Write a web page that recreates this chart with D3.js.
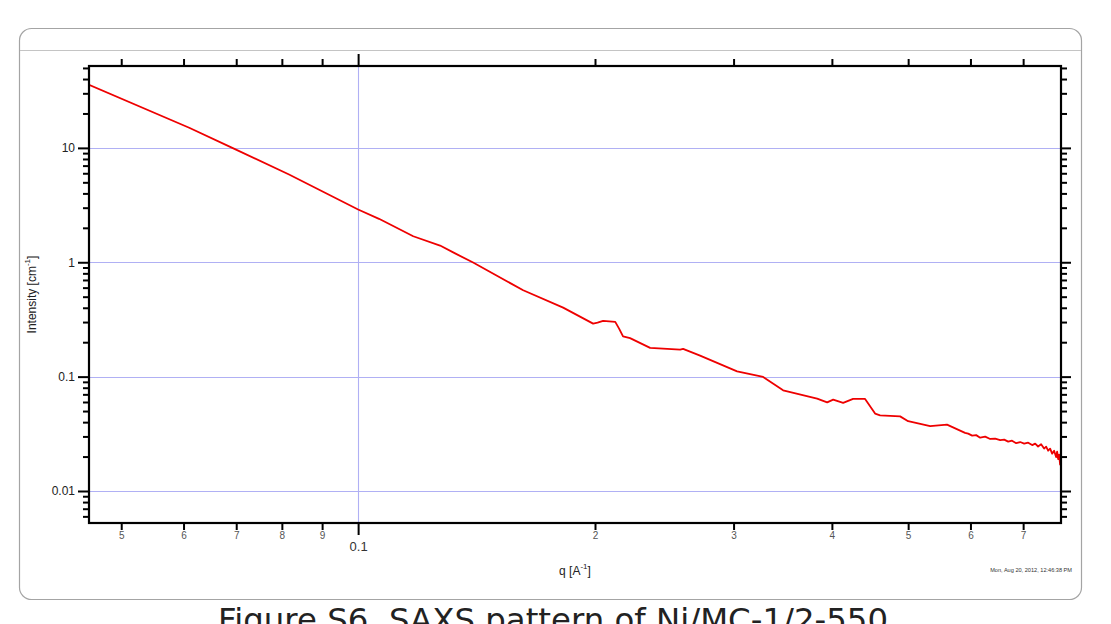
<!DOCTYPE html>
<html>
<head>
<meta charset="utf-8">
<script src="https://cdn.jsdelivr.net/npm/d3@7"></script>
<style>
  html, body { margin: 0; padding: 0; background: #fff; }
  svg { display: block; }
</style>
</head>
<body>
<svg id="chart" width="1111" height="624"></svg>
<script>
// ---- data ----
const qValues = [
  0.0455, 0.0610, 0.0692, 0.0817, 0.1000, 0.1063, 0.1175, 0.1271, 0.1330, 0.1400, 0.1621,
  0.1822, 0.1989, 0.2015, 0.2048, 0.2122, 0.2146, 0.2171, 0.2216, 0.2350, 0.2566, 0.2588,
  0.2720, 0.3031, 0.3271, 0.3468, 0.3831, 0.3945, 0.4015, 0.4134, 0.4256, 0.4408,
  0.4539, 0.4606, 0.4884, 0.5000, 0.5333, 0.5602, 0.5906,
  0.5960, 0.6030, 0.6101, 0.6173, 0.6264, 0.6356, 0.6450, 0.6545, 0.6622, 0.6700,
  0.6776, 0.6859, 0.6940, 0.7021, 0.7104, 0.7187, 0.7251, 0.7313, 0.7378, 0.7443,
  0.7487, 0.7531, 0.7575, 0.7620, 0.7664, 0.7709, 0.7732, 0.7755, 0.7777, 0.7800, 0.7818
];
const intensityValues = [
  35.65, 14.99, 10.0, 5.85, 2.89, 2.398, 1.688, 1.400, 1.19, 0.994, 0.569,
  0.4015, 0.2909, 0.2960, 0.3072, 0.3011, 0.2630, 0.2252, 0.2172, 0.1783, 0.1723, 0.1747,
  0.1527, 0.1113, 0.0994, 0.0759, 0.0642, 0.0596, 0.0629, 0.0589, 0.0638, 0.0638,
  0.0475, 0.0459, 0.0449, 0.0408, 0.0369, 0.0380, 0.0322,
  0.03171, 0.03047, 0.03080, 0.02926, 0.02986, 0.02850, 0.02869, 0.02790, 0.02811, 0.02700,
  0.02755, 0.02620, 0.02680, 0.02600, 0.02646, 0.02520, 0.02593, 0.02450, 0.02560, 0.02350,
  0.02441, 0.02250, 0.02345, 0.02120, 0.02252, 0.01980, 0.02207, 0.01900, 0.02078, 0.01700, 0.01878
];

const xDomain = [0.0455, 0.782];
const yDomain = [0.00525, 52];

const xMajorTicks = [0.1];
const xMajorLabels = ["0.1"];
const xMinorTicks = [0.05, 0.06, 0.07, 0.08, 0.09, 0.2, 0.3, 0.4, 0.5, 0.6, 0.7];
const xMinorLabels = ["5", "6", "7", "8", "9", "2", "3", "4", "5", "6", "7"];

const yMajorTicks = [0.01, 0.1, 1, 10];
const yMajorLabels = ["0.01", "0.1", "1", "10"];
const yMinorTicks = [
  0.006, 0.007, 0.008, 0.009,
  0.02, 0.03, 0.04, 0.05, 0.06, 0.07, 0.08, 0.09,
  0.2, 0.3, 0.4, 0.5, 0.6, 0.7, 0.8, 0.9,
  2, 3, 4, 5, 6, 7, 8, 9,
  20, 30, 40, 50
];

const yTitle = "Intensity [cm";
const xTitle = "q [A";
const superscript = "-1";
const timestamp = "Mon, Aug 20, 2012, 12:46:38 PM";
const caption = "Figure S6. SAXS pattern of Ni/MC-1/2-550";

// ---- layout ----
const plot = { left: 89, right: 1061, top: 66, bottom: 523 };
const svg = d3.select("#chart");

const x = d3.scaleLog().domain(xDomain).range([plot.left, plot.right]);
const y = d3.scaleLog().domain(yDomain).range([plot.bottom, plot.top]);

// outer panel
svg.append("rect")
  .attr("x", 19.5).attr("y", 28.5)
  .attr("width", 1062).attr("height", 571)
  .attr("rx", 12).attr("ry", 12)
  .attr("fill", "#fff")
  .attr("stroke", "#a4a4a4").attr("stroke-width", 1.2);
svg.append("line")
  .attr("x1", 20).attr("x2", 1081)
  .attr("y1", 50.5).attr("y2", 50.5)
  .attr("stroke", "#c4c4c4").attr("stroke-width", 1);

// clip
svg.append("defs").append("clipPath").attr("id", "plotclip")
  .append("rect")
  .attr("x", plot.left).attr("y", plot.top)
  .attr("width", plot.right - plot.left).attr("height", plot.bottom - plot.top);

// grid
const grid = svg.append("g").attr("stroke", "#b0b0f4").attr("stroke-width", 1.1);
grid.selectAll("line.h").data(yMajorTicks).join("line")
  .attr("class", "h")
  .attr("x1", plot.left).attr("x2", plot.right)
  .attr("y1", d => Math.round(y(d)) + 0.5).attr("y2", d => Math.round(y(d)) + 0.5);
grid.selectAll("line.v").data(xMajorTicks).join("line")
  .attr("class", "v")
  .attr("x1", d => Math.round(x(d)) + 0.5).attr("x2", d => Math.round(x(d)) + 0.5)
  .attr("y1", plot.top).attr("y2", plot.bottom);

// curve
const pts = qValues.map((q, i) => [q, intensityValues[i]]);
const line = d3.line().x(d => x(d[0])).y(d => y(d[1]));
svg.append("path")
  .datum(pts)
  .attr("clip-path", "url(#plotclip)")
  .attr("fill", "none")
  .attr("stroke", "#ee0000")
  .attr("stroke-width", 1.8)
  .attr("stroke-linejoin", "round")
  .attr("d", line);

// axes helpers
function styleAxis(g, width) {
  g.select(".domain").remove();
  g.selectAll(".tick line").attr("stroke", "#000").attr("stroke-width", width);
}

const fontFam = "'Liberation Sans', Arial, sans-serif";

// bottom minor
const bMinor = svg.append("g").attr("transform", `translate(0,${plot.bottom})`)
  .call(d3.axisBottom(x).tickValues(xMinorTicks).tickSize(7).tickPadding(2)
    .tickFormat((d, i) => xMinorLabels[i]));
styleAxis(bMinor, 2);
bMinor.selectAll("text").attr("font-family", fontFam).attr("font-size", 10).attr("fill", "#555");

// bottom major
const bMajor = svg.append("g").attr("transform", `translate(0,${plot.bottom})`)
  .call(d3.axisBottom(x).tickValues(xMajorTicks).tickSize(12).tickPadding(7)
    .tickFormat((d, i) => xMajorLabels[i]));
styleAxis(bMajor, 2);
bMajor.selectAll("text").attr("font-family", fontFam).attr("font-size", 13).attr("fill", "#333");

// top ticks
const tMinor = svg.append("g").attr("transform", `translate(0,${plot.top})`)
  .call(d3.axisTop(x).tickValues(xMinorTicks).tickSize(7).tickFormat(""));
styleAxis(tMinor, 2);
const tMajor = svg.append("g").attr("transform", `translate(0,${plot.top})`)
  .call(d3.axisTop(x).tickValues(xMajorTicks).tickSize(12).tickFormat(""));
styleAxis(tMajor, 2);

// left
const lMinor = svg.append("g").attr("transform", `translate(${plot.left},0)`)
  .call(d3.axisLeft(y).tickValues(yMinorTicks).tickSize(6).tickFormat(""));
styleAxis(lMinor, 2);
const lMajor = svg.append("g").attr("transform", `translate(${plot.left},0)`)
  .call(d3.axisLeft(y).tickValues(yMajorTicks).tickSize(11).tickPadding(3)
    .tickFormat((d, i) => yMajorLabels[i]));
styleAxis(lMajor, 2);
lMajor.selectAll("text").attr("font-family", fontFam).attr("font-size", 12).attr("fill", "#222");

// right
const rMinor = svg.append("g").attr("transform", `translate(${plot.right},0)`)
  .call(d3.axisRight(y).tickValues(yMinorTicks).tickSize(6).tickFormat(""));
styleAxis(rMinor, 2);
const rMajor = svg.append("g").attr("transform", `translate(${plot.right},0)`)
  .call(d3.axisRight(y).tickValues(yMajorTicks).tickSize(10).tickFormat(""));
styleAxis(rMajor, 2);

// frame
svg.append("rect")
  .attr("x", plot.left).attr("y", plot.top)
  .attr("width", plot.right - plot.left).attr("height", plot.bottom - plot.top)
  .attr("fill", "none").attr("stroke", "#000").attr("stroke-width", 2.2);

// y title
const yt = svg.append("text")
  .attr("transform", `translate(36,${(plot.top + plot.bottom) / 2}) rotate(-90)`)
  .attr("text-anchor", "middle")
  .attr("font-family", fontFam).attr("font-size", 12).attr("fill", "#222");
yt.append("tspan").text(yTitle);
yt.append("tspan").attr("dy", -6).attr("font-size", 8).text(superscript);
yt.append("tspan").attr("dy", 6).text("]");

// x title
const xt = svg.append("text")
  .attr("x", (plot.left + plot.right) / 2).attr("y", 575)
  .attr("text-anchor", "middle")
  .attr("font-family", fontFam).attr("font-size", 12).attr("fill", "#222");
xt.append("tspan").text(xTitle);
xt.append("tspan").attr("dy", -6).attr("font-size", 8).text(superscript);
xt.append("tspan").attr("dy", 6).text("]");

// timestamp
svg.append("text")
  .attr("x", 1072).attr("y", 572)
  .attr("text-anchor", "end")
  .attr("font-family", fontFam).attr("font-size", 5.6).attr("fill", "#333")
  .text(timestamp);

// caption
svg.append("text")
  .attr("x", 553).attr("y", 631)
  .attr("text-anchor", "middle")
  .attr("textLength", 670).attr("lengthAdjust", "spacingAndGlyphs")
  .attr("font-family", "'DejaVu Sans', Verdana, sans-serif").attr("font-size", 32).attr("fill", "#222")
  .text(caption);
</script>
</body>
</html>
